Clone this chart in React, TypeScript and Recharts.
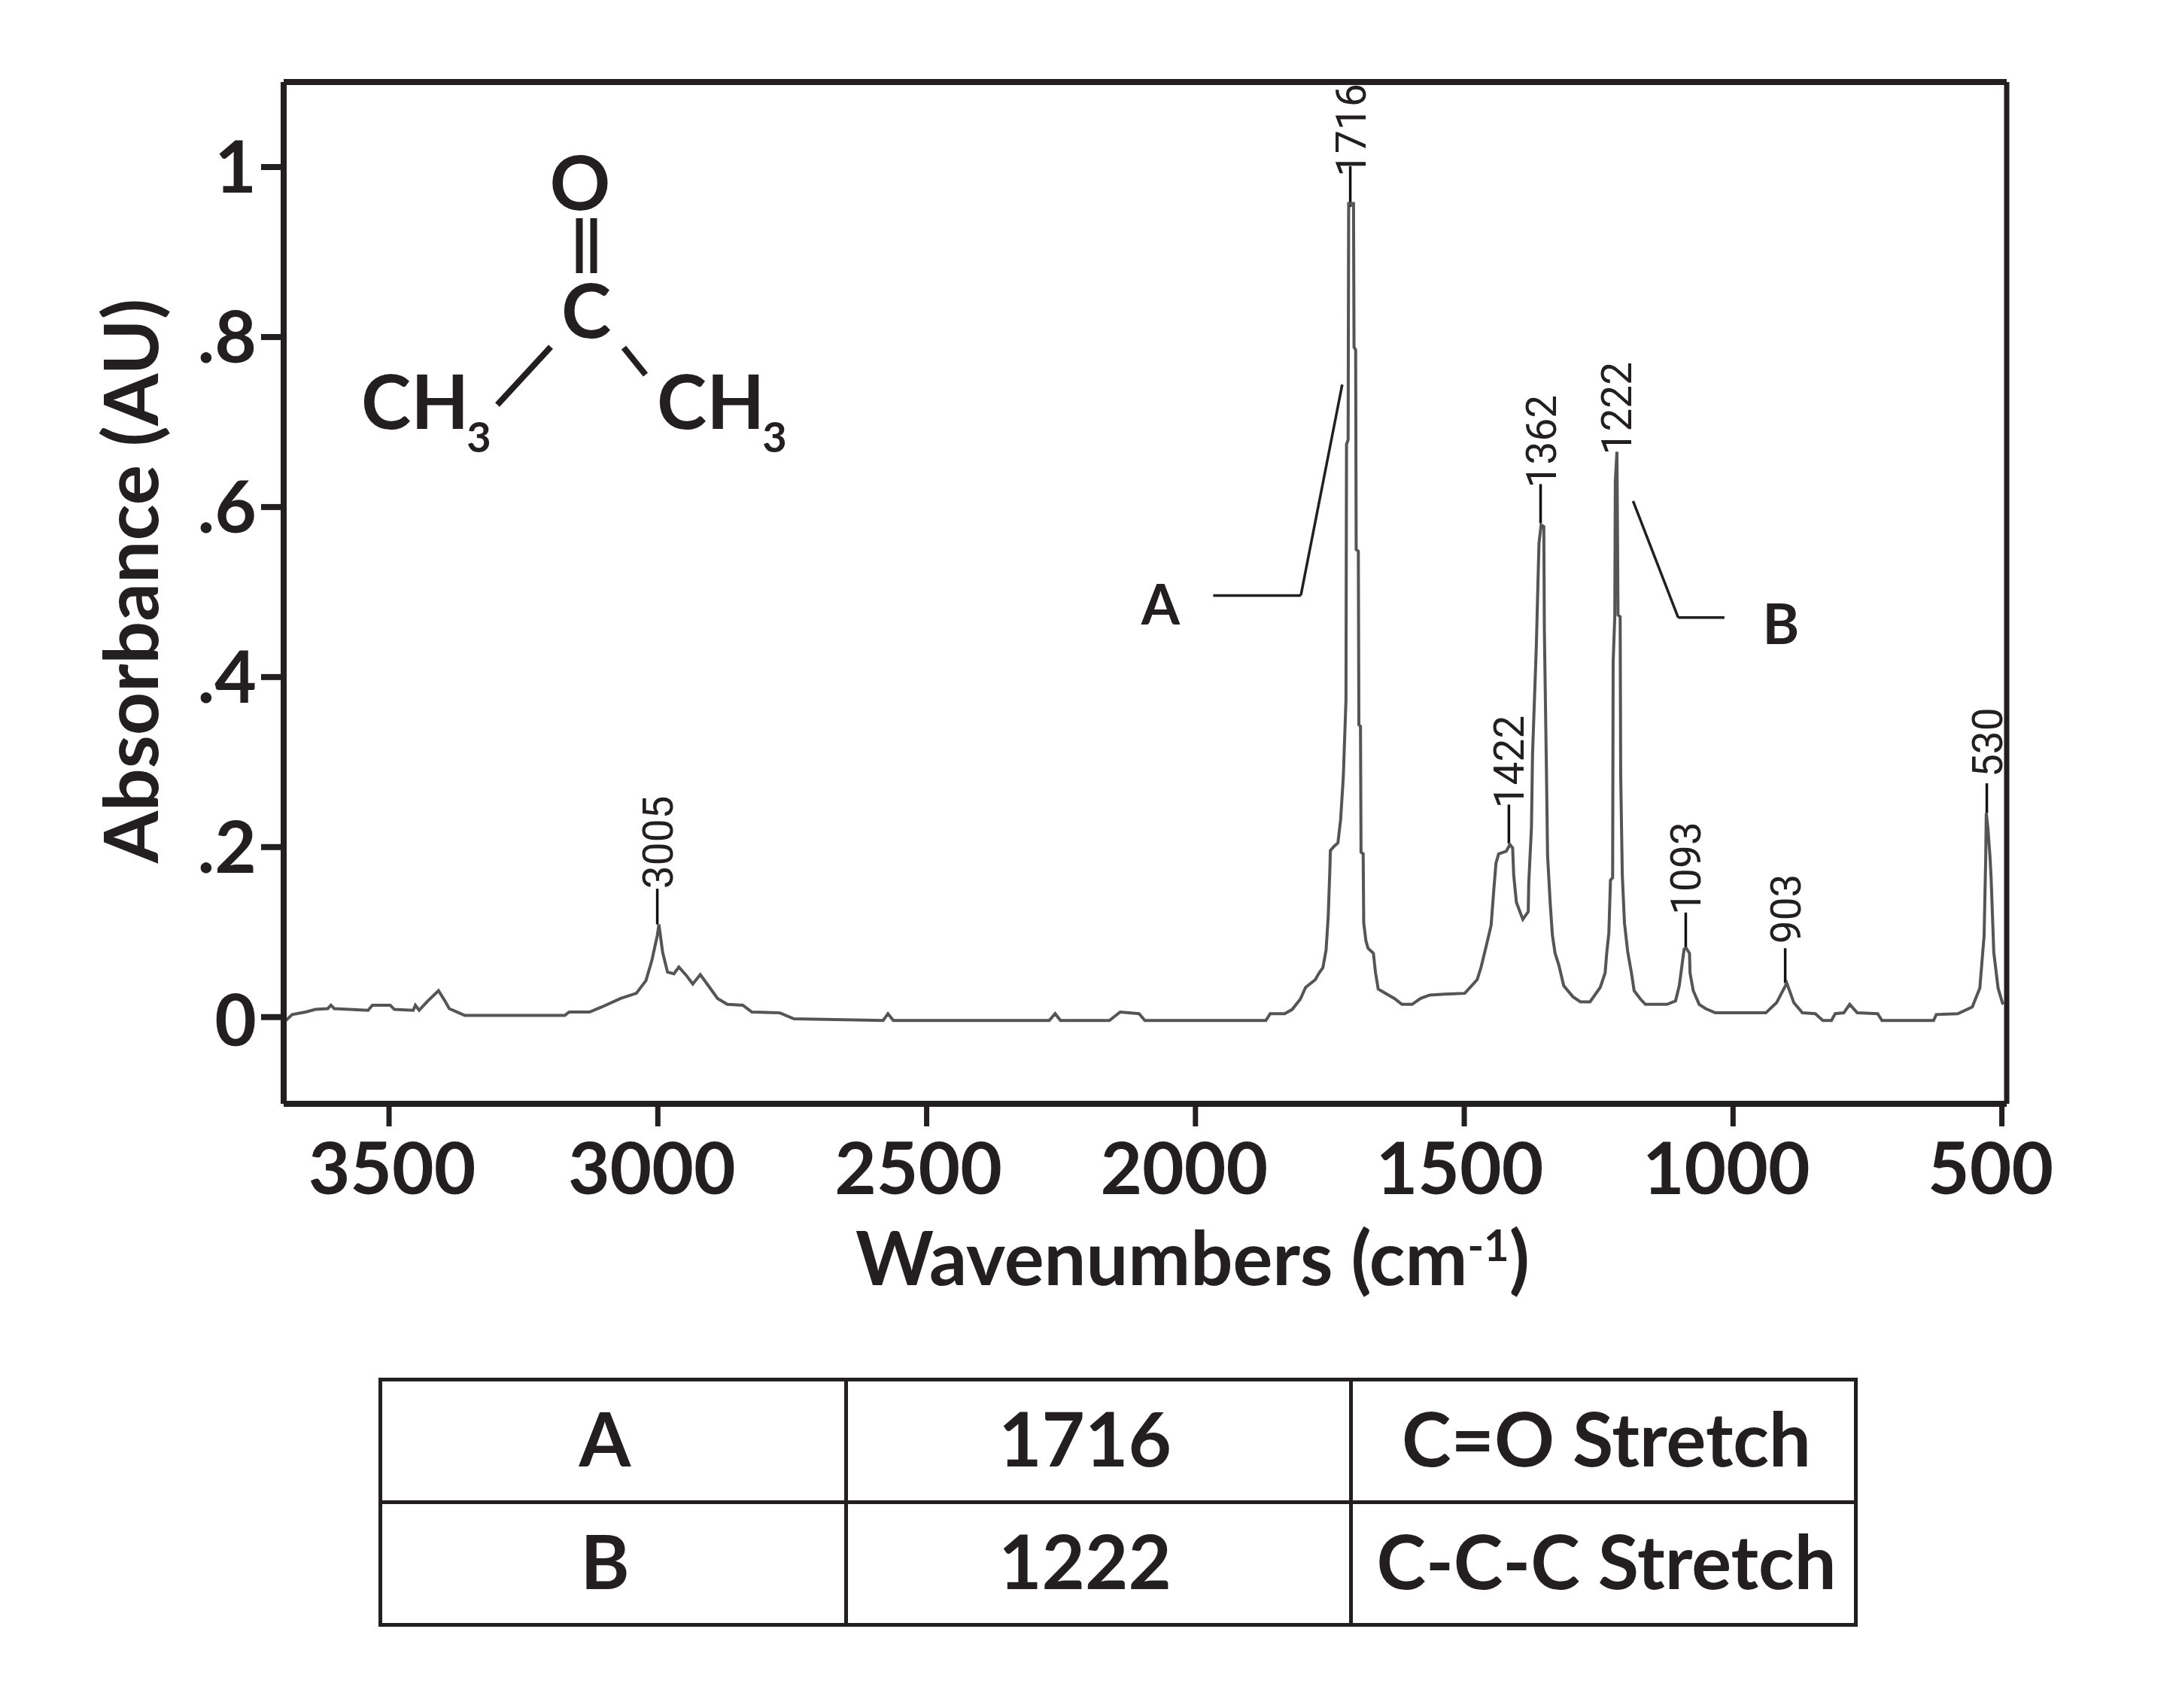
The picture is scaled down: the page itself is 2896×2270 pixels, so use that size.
import { LineChart, Line, XAxis, YAxis, ReferenceLine, ReferenceDot } from "recharts";

const wavenumbers = [
  3692, 3680, 3655, 3637, 3614, 3608, 3602, 3539, 3531, 3498,
  3490, 3455, 3451, 3444, 3428, 3408, 3396, 3388, 3370, 3359,
  3173, 3165, 3127, 3104, 3069, 3040, 3022, 3011, 3001, 2998,
  2991, 2982, 2970, 2961, 2947, 2935, 2921, 2906, 2889, 2871,
  2842, 2825, 2773, 2747, 2581, 2572, 2562, 2272, 2261, 2251,
  2160, 2140, 2105, 2094, 1869, 1861, 1844, 1834, 1820, 1805,
  1795, 1777, 1770, 1763, 1757, 1753, 1750, 1749, 1742, 1735,
  1730, 1725, 1720, 1719, 1716, 1715, 1706, 1705, 1702, 1701,
  1697, 1696, 1693, 1692, 1688, 1687, 1683, 1679, 1669, 1665,
  1660, 1644, 1630, 1616, 1597, 1581, 1564, 1536, 1499, 1476,
  1469, 1459, 1450, 1445, 1441, 1436, 1422, 1415, 1410, 1408,
  1403, 1391, 1381, 1380, 1375, 1373, 1366, 1361, 1357, 1352,
  1351, 1347, 1345, 1340, 1336, 1331, 1324, 1315, 1298, 1284,
  1266, 1247, 1238, 1235, 1231, 1228, 1224, 1223, 1220, 1219,
  1216, 1215, 1214, 1210, 1209, 1206, 1202, 1196, 1189, 1184,
  1172, 1163, 1123, 1107, 1100, 1095, 1091, 1087, 1081, 1080,
  1074, 1063, 1051, 1033, 939, 919, 900, 887, 871, 847,
  833, 817, 810, 794, 783, 769, 731, 723, 627, 622,
  582, 555, 541, 533, 530, 529, 526, 522, 520, 515,
  507, 499, 497,
];

const absorbance = [
  -0.004, 0.003, 0.006, 0.009, 0.01, 0.014, 0.01, 0.008, 0.014, 0.014,
  0.009, 0.008, 0.014, 0.008, 0.019, 0.031, 0.019, 0.01, 0.005, 0.002,
  0.002, 0.006, 0.006, 0.012, 0.022, 0.028, 0.043, 0.067, 0.096, 0.109,
  0.076, 0.053, 0.051, 0.059, 0.049, 0.039, 0.05, 0.037, 0.022, 0.015,
  0.014, 0.006, 0.005, -0.002, -0.004, 0.004, -0.004, -0.004, 0.004, -0.004,
  -0.004, 0.006, 0.004, -0.004, -0.004, 0.004, 0.004, 0.004, 0.009, 0.021,
  0.035, 0.044, 0.052, 0.058, 0.079, 0.119, 0.173, 0.196, 0.201, 0.205,
  0.232, 0.282, 0.373, 0.674, 0.679, 0.957, 0.957, 0.788, 0.785, 0.55,
  0.548, 0.344, 0.342, 0.194, 0.192, 0.111, 0.09, 0.081, 0.075, 0.052,
  0.033, 0.027, 0.022, 0.015, 0.015, 0.022, 0.026, 0.027, 0.028, 0.044,
  0.058, 0.084, 0.108, 0.15, 0.181, 0.192, 0.195, 0.203, 0.199, 0.167,
  0.135, 0.115, 0.124, 0.158, 0.223, 0.309, 0.435, 0.557, 0.579, 0.577,
  0.456, 0.285, 0.19, 0.133, 0.096, 0.075, 0.061, 0.037, 0.024, 0.018,
  0.018, 0.035, 0.052, 0.075, 0.099, 0.161, 0.164, 0.418, 0.471, 0.63,
  0.665, 0.577, 0.473, 0.471, 0.285, 0.167, 0.111, 0.077, 0.052, 0.031,
  0.021, 0.015, 0.015, 0.019, 0.037, 0.061, 0.08, 0.081, 0.075, 0.052,
  0.031, 0.015, 0.01, 0.005, 0.005, 0.017, 0.04, 0.017, 0.005, 0.004,
  -0.004, -0.004, 0.004, 0.005, 0.015, 0.005, 0.004, -0.004, -0.004, 0.003,
  0.004, 0.012, 0.034, 0.096, 0.188, 0.24, 0.223, 0.188, 0.164, 0.076,
  0.034, 0.017, 0.015,
];

const xTicks = [3500, 3000, 2500, 2000, 1500, 1000, 500];
const yTicks = [0, 0.2, 0.4, 0.6, 0.8, 1];

// peak tags: label, x of the stem, stem bottom (on the peak), stem top
const peakLabels = ["3005", "1716", "1422", "1362", "1222", "1093", "903", "530"];
const peakX = [3001, 1712, 1417, 1358, 1217, 1088, 903, 528];
const peakBase = [0.109, 0.953, 0.204, 0.581, 0.665, 0.081, 0.04, 0.24];
const peakTop = [0.151, 1.001, 0.25, 0.627, 0.665, 0.123, 0.081, 0.275];

const tableRows = [
  ["A", "1716", "C=O Stretch"],
  ["B", "1222", "C-C-C Stretch"],
];

const data = wavenumbers.map((w, i) => ({ w, a: absorbance[i] }));

const INK = "#231f20";
const FONT = "Lato, 'Open Sans', sans-serif";

const xNudge: Record<number, number> = { 3500: 4, 3000: -8, 2500: -11, 2000: -15, 1500: -6, 1000: -9, 500: -15 };
const tagLift: Record<string, number> = { "3005": 0, "1716": -14, "1422": -5, "1362": -5, "1222": -4, "1093": -3, "903": 6, "530": 8 };

function XTick({ x, y, payload }: any) {
  return (
    <text x={x + (xNudge[payload.value] ?? 0)} y={y} dy={88} textAnchor="middle" fontFamily={FONT} fontWeight={700} fontSize={96} fill={INK}>
      {payload.value}
    </text>
  );
}

function YTick({ x, y, payload }: any) {
  const label = payload.value === 0 ? "0" : payload.value === 1 ? "1" : String(payload.value).replace("0.", ".");
  return (
    <text x={x - 4} y={y} dy={payload.value === 0 ? 38 : 34} textAnchor="end" fontFamily={FONT} fontWeight={700} fontSize={96} fill={INK}>
      {label}
    </text>
  );
}

function XTitle() {
  return (
    <text x={1585} y={1708} textAnchor="middle" fontFamily={FONT} fontWeight={700} fontSize={99} fill={INK}>
      Wavenumbers (cm
      <tspan dy={-32} fontSize={58}>-1</tspan>
      <tspan dy={32}>)</tspan>
    </text>
  );
}

function YTitle() {
  return (
    <text x={177} y={805} transform="rotate(-90 177 772)" textAnchor="middle" fontFamily={FONT} fontWeight={700} fontSize={100} fill={INK}>
      Absorbance (AU)
    </text>
  );
}

function PeakTag({ cx, cy, label }: any) {
  const clipId = "tag-" + label;
  return (
    <g>
      <clipPath id={clipId}>
        <rect x={cx - 40} y={cy - (label === "1716" ? 110 : 140)} width={80} height={170} />
      </clipPath>
      <g clipPath={`url(#${clipId})`}>
        <text
          transform={`rotate(-90 ${cx} ${cy})`}
          x={cx + tagLift[label]}
          y={cy}
          dy={20}
          fontFamily="Roboto, sans-serif"
          fontWeight={400}
          fontSize={55}
          fill={INK}
        >
          {label}
        </text>
      </g>
    </g>
  );
}

function Molecule() {
  const text = { fontFamily: FONT, fontWeight: 700, fill: INK } as const;
  return (
    <svg width={2896} height={2270} style={{ position: "absolute", left: 0, top: 0, pointerEvents: "none" }}>
      <text {...text} x={771} y={279} fontSize={100} textAnchor="middle">O</text>
      <text {...text} x={779} y={449} fontSize={100} textAnchor="middle">C</text>
      <text {...text} x={480} y={570} fontSize={100}>
        CH<tspan dx={-3} dy={31} fontSize={56}>3</tspan>
      </text>
      <text {...text} x={873} y={570} fontSize={100}>
        CH<tspan dx={-3} dy={31} fontSize={56}>3</tspan>
      </text>
      <g stroke={INK}>
        <line x1={770} y1={290} x2={770} y2={363} strokeWidth={9} />
        <line x1={789} y1={290} x2={789} y2={363} strokeWidth={9} />
        <line x1={732} y1={461} x2={661} y2={538} strokeWidth={8} />
        <line x1={829} y1={462} x2={858} y2={498} strokeWidth={8} />
      </g>
    </svg>
  );
}

function PeakTable() {
  const colWidths = [619, 671, 671];
  const colShift = [-11, -18, 4];
  return (
    <table
      style={{
        position: "absolute",
        left: 503,
        top: 1831,
        width: 1961,
        height: 331,
        borderCollapse: "collapse",
        tableLayout: "fixed",
        fontFamily: FONT,
        fontWeight: 700,
        fontSize: 99,
        color: INK,
        textAlign: "center",
      }}
    >
      <colgroup>
        {colWidths.map((w, i) => <col key={i} style={{ width: w }} />)}
      </colgroup>
      <tbody>
        {tableRows.map((row, r) => (
          <tr key={r}>
            {row.map((cell, c) => (
              <td key={c} style={{ border: `5px solid ${INK}`, padding: 0, whiteSpace: "nowrap" }}>
                <span style={{ position: "relative", left: colShift[c], top: -5 }}>{cell}</span>
              </td>
            ))}
          </tr>
        ))}
      </tbody>
    </table>
  );
}

export default function App() {
  const leader = { stroke: INK, strokeWidth: 3.5, ifOverflow: "visible" as const };
  return (
    <div style={{ position: "absolute", left: 0, top: 0, width: 2896, height: 2270, background: "#fff" }}>
      <LineChart width={2896} height={2270} data={data} margin={{ top: 109, right: 229, bottom: 683, left: 0 }}>
        <XAxis
          dataKey="w"
          type="number"
          reversed
          domain={[491, 3696]}
          ticks={xTicks}
          interval={0}
          allowDataOverflow
          height={120}
          axisLine={{ stroke: INK, strokeWidth: 8 }}
          tickLine={{ stroke: INK, strokeWidth: 7 }}
          tickSize={30}
          tick={<XTick />}
          label={<XTitle />}
        />
        <YAxis
          type="number"
          domain={[-0.102, 1.1]}
          ticks={yTicks}
          interval={0}
          width={377}
          axisLine={{ stroke: INK, strokeWidth: 8 }}
          tickLine={{ stroke: INK, strokeWidth: 8 }}
          tickSize={30}
          tick={<YTick />}
          label={<YTitle />}
        />

        {/* top and right edges of the frame */}
        <ReferenceLine y={1.1} stroke={INK} strokeWidth={8} ifOverflow="visible" />
        <ReferenceLine x={491} stroke={INK} strokeWidth={7} ifOverflow="visible" />

        {/* A and B call-outs */}
        <ReferenceLine {...leader} segment={[{ x: 1727, y: 0.744 }, { x: 1804, y: 0.496 }]} />
        <ReferenceLine {...leader} segment={[{ x: 1804, y: 0.496 }, { x: 1967, y: 0.496 }]} />
        <ReferenceLine {...leader} segment={[{ x: 1186, y: 0.607 }, { x: 1102, y: 0.47 }]} />
        <ReferenceLine {...leader} segment={[{ x: 1102, y: 0.47 }, { x: 1016, y: 0.47 }]} />

        {peakLabels.map((label, i) => (
          <ReferenceLine key={"stem" + i} {...leader} stroke="#111" segment={[{ x: peakX[i], y: peakBase[i] }, { x: peakX[i], y: peakTop[i] }]} />
        ))}
        {peakLabels.map((label, i) => (
          <ReferenceDot
            key={"tag" + i}
            x={peakX[i]}
            y={peakTop[i]}
            r={0}
            ifOverflow="visible"
            shape={(p: any) => <PeakTag cx={p.cx} cy={p.cy} label={label} />}
          />
        ))}
        <ReferenceDot x={2065} y={0.485} r={0} ifOverflow="visible" shape={(p: any) => (
          <text x={p.cx} y={p.cy} dy={26} textAnchor="middle" fontFamily={FONT} fontWeight={700} fontSize={74} fill={INK}>A</text>
        )} />
        <ReferenceDot x={911} y={0.462} r={0} ifOverflow="visible" shape={(p: any) => (
          <text x={p.cx} y={p.cy} dy={26} textAnchor="middle" fontFamily={FONT} fontWeight={700} fontSize={74} fill={INK}>B</text>
        )} />

        <Line dataKey="a" type="linear" dot={false} stroke="#555" strokeWidth={4} isAnimationActive={false} />
      </LineChart>
      <Molecule />
      <PeakTable />
    </div>
  );
}
